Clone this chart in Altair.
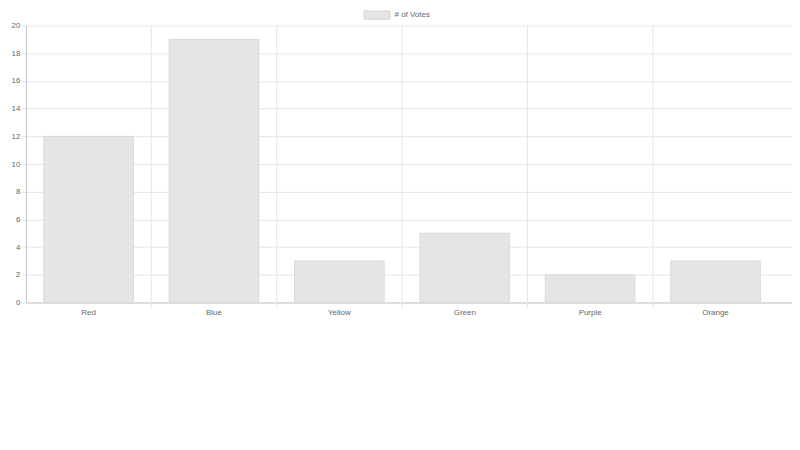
import altair as alt
import pandas as pd

categories = ["Red", "Blue", "Yellow", "Green", "Purple", "Orange"]
votes = [12, 19, 3, 5, 2, 3]
series = ["# of Votes"] * len(categories)

df = pd.DataFrame({"category": categories, "votes": votes, "series": series})

FONT = "Liberation Sans"
TXT = "#666666"
GRID = "#e6e6e6"
FS = 8

xscale = alt.Scale(domain=categories, paddingInner=0, paddingOuter=0.055, align=0)

bars = alt.Chart(df).mark_bar(
    stroke="#dadada", strokeWidth=1, fill="#e5e5e5",
    width=alt.RelativeBandSize(0.715),
).encode(
    x=alt.X(
        "category:N",
        sort=None,
        title=None,
        scale=xscale,
        axis=alt.Axis(
            labelAngle=0,
            labelAlign="center",
            grid=False,
            tickOpacity=0,
            tickSize=6,
            labelPadding=4,
            domainColor="#c8c8c8",
        ),
    ),
    y=alt.Y(
        "votes:Q",
        title=None,
        scale=alt.Scale(domain=[0, 20], nice=False),
        axis=alt.Axis(
            values=list(range(0, 21, 2)),
            grid=True,
            gridColor=GRID,
            tickColor=GRID,
            tickSize=5,
            labelPadding=1,
            domainColor="#c8c8c8",
        ),
    ),
    color=alt.Color(
        "series:N",
        scale=alt.Scale(range=["#e5e5e5"]),
        legend=alt.Legend(
            title=None,
            orient="none",
            legendX=339,
            legendY=-24,
            padding=0,
            symbolType="M-1,-0.32L1,-0.32L1,0.32L-1,0.32Z",
            symbolSize=676,
            symbolStrokeColor="#d6d6d6",
            symbolStrokeWidth=1,
            symbolFillColor="#e5e5e5",
            symbolOpacity=1,
            labelFont=FONT,
            labelFontSize=FS,
            labelColor=TXT,
            labelOffset=4,
        ),
    ),
)

vgrid = alt.Chart(df).transform_filter(
    alt.datum.category != categories[0]
).mark_rule(color=GRID, strokeWidth=1).encode(
    x=alt.X("category:N", sort=None, scale=xscale, bandPosition=0),
    y=alt.value(0),
    y2=alt.value(284),
)

chart = alt.layer(vgrid, bars).properties(
    width=769,
    height=278,
    autosize=alt.AutoSizeParams(type="none"),
    padding={"left": 18, "top": 17, "right": 0, "bottom": 40},
).configure_view(
    stroke=None
).configure_axis(
    labelFont=FONT,
    labelFontSize=FS,
    labelColor=TXT,
    gridWidth=1,
)

chart.save("out.html", embed_options={"renderer": "svg", "actions": False})
